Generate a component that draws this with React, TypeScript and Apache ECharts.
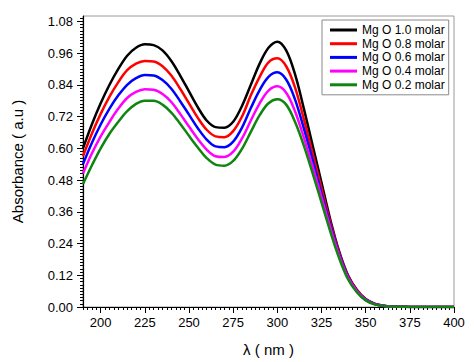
import React, { useEffect, useRef } from "react";
import * as echarts from "echarts";

const wavelengths = [190,195,200,205,210,215,220,225,230,235,240,245,250,255,260,265,270,275,280,285,290,295,300,305,310,315,320,325,330,335,340,345,350,355,360,365,370,375,380,390,400];

const molar10 = [0.60,0.69,0.77,0.84,0.90,0.95,0.98,0.993,0.99,0.97,0.93,0.875,0.815,0.755,0.705,0.68,0.678,0.70,0.76,0.84,0.92,0.98,1.003,0.97,0.88,0.75,0.61,0.47,0.33,0.21,0.12,0.065,0.03,0.013,0.005,0.002,0.001,0,0,0,0];
const molar08 = [0.57,0.655,0.73,0.795,0.85,0.895,0.92,0.93,0.928,0.91,0.875,0.825,0.77,0.715,0.67,0.645,0.642,0.665,0.72,0.80,0.87,0.925,0.94,0.91,0.83,0.71,0.58,0.45,0.32,0.205,0.117,0.063,0.029,0.012,0.005,0.002,0.001,0,0,0,0];
const molar06 = [0.54,0.62,0.69,0.75,0.80,0.84,0.865,0.877,0.875,0.858,0.825,0.778,0.727,0.676,0.633,0.607,0.604,0.625,0.678,0.752,0.82,0.87,0.887,0.86,0.785,0.675,0.555,0.43,0.31,0.20,0.114,0.061,0.028,0.012,0.005,0.002,0.001,0,0,0,0];
const molar04 = [0.505,0.58,0.645,0.70,0.75,0.79,0.813,0.823,0.821,0.805,0.775,0.73,0.682,0.635,0.595,0.57,0.567,0.587,0.637,0.705,0.77,0.818,0.834,0.81,0.74,0.64,0.53,0.415,0.30,0.195,0.111,0.06,0.027,0.011,0.005,0.002,0.001,0,0,0,0];
const molar02 = [0.465,0.535,0.60,0.655,0.70,0.74,0.768,0.78,0.78,0.765,0.735,0.693,0.647,0.603,0.563,0.538,0.534,0.552,0.598,0.662,0.725,0.77,0.785,0.765,0.70,0.61,0.505,0.395,0.285,0.185,0.105,0.056,0.025,0.01,0.004,0.002,0.001,0,0,0,0];

const seriesNames = ["Mg O 1.0 molar","Mg O 0.8 molar","Mg O 0.6 molar","Mg O 0.4 molar","Mg O 0.2 molar"];
const seriesValues = [molar10, molar08, molar06, molar04, molar02];
const seriesColors = ["#000000","#ff0000","#0000ff","#ff00ff","#0e850e"];

const xTicks = [200,225,250,275,300,325,350,375,400];
const yTicks = [0,0.12,0.24,0.36,0.48,0.60,0.72,0.84,0.96,1.08];

const FONT = "Liberation Sans";

export default function App() {
  const ref = useRef<HTMLDivElement>(null);
  useEffect(() => {
    if (!ref.current) return;
    const chart = echarts.init(ref.current, null, { renderer: "svg" });
    chart.setOption({
      animation: false,
      textStyle: { fontFamily: FONT },
      grid: {
        left: 83, right: 20, top: 16, bottom: 55,
        show: true, borderColor: "#9a9a9a", borderWidth: 1, backgroundColor: "transparent",
      },
      legend: {
        orient: "vertical",
        left: 322, top: 20,
        padding: [4, 4, 4, 8],
        itemWidth: 27, itemHeight: 3, itemGap: 1.7,
        icon: "rect",
        backgroundColor: "#fff",
        borderColor: "#8a8a8a", borderWidth: 1, borderRadius: 0,
        textStyle: { fontFamily: FONT, fontSize: 12, color: "#000", lineHeight: 12, padding: [0, 0, 0, 0] },
        data: seriesNames,
      },
      xAxis: [
        {
          type: "value", min: 190, max: 400, interval: 2.5,
          name: "λ ( nm )", nameLocation: "middle", nameGap: 35,
          nameTextStyle: { fontFamily: FONT, fontSize: 15, color: "#000" },
          axisLine: { lineStyle: { color: "#000", width: 1.2 } },
          axisTick: { show: true, length: 3, lineStyle: { color: "#000" } },
          axisLabel: { customValues: xTicks, fontFamily: FONT, fontSize: 13, color: "#000", margin: 9 },
          splitLine: { show: false },
        },
        {
          type: "value", min: 190, max: 400, interval: 2.5, position: "bottom",
          axisLine: { show: false },
          axisTick: { show: true, customValues: xTicks, length: 6, lineStyle: { color: "#000" } },
          axisLabel: { show: false },
          splitLine: { show: false },
        },
      ],
      yAxis: {
        type: "value", min: 0, max: 1.1, interval: 0.12,
        name: "Absorbance ( a.u )", nameLocation: "middle", nameGap: 58,
        nameTextStyle: { fontFamily: FONT, fontSize: 15, color: "#000" },
        axisLine: { show: true, lineStyle: { color: "#000", width: 1.2 } },
        axisTick: { show: true, customValues: yTicks, length: 6, lineStyle: { color: "#000" } },
        minorTick: { show: true, splitNumber: 10, length: 3, lineStyle: { color: "#000" } },
        axisLabel: {
          customValues: yTicks, fontFamily: FONT, fontSize: 13, color: "#000", margin: 10,
          formatter: (v: number) => v.toFixed(2),
        },
        splitLine: { show: false },
        minorSplitLine: { show: false },
      },
      series: seriesNames.map((name, i) => ({
        name,
        type: "line",
        xAxisIndex: 0,
        data: wavelengths.map((w, j) => [w, seriesValues[i][j]]),
        smooth: 0.35,
        showSymbol: false,
        symbol: "none",
        lineStyle: { color: seriesColors[i], width: 2.5 },
        itemStyle: { color: seriesColors[i] },
      })),
    });
    return () => chart.dispose();
  }, []);
  return <div ref={ref} style={{ width: 474, height: 362, position: "absolute", left: 0, top: 0 }} />;
}
